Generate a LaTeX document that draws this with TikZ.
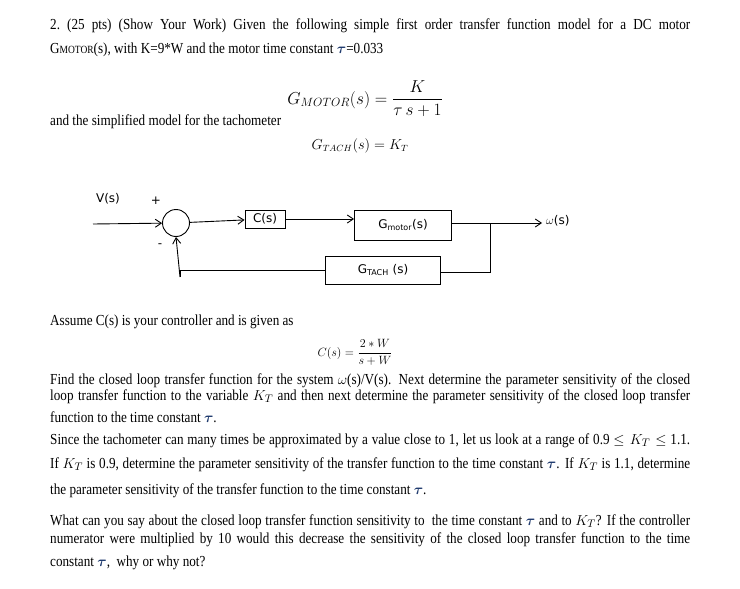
\documentclass[tikz,border=0pt]{standalone}
\usepackage{amsmath}
\usepackage{fontspec}
\setmainfont[FakeStretch=0.86]{Liberation Serif}
\newfontfamily\hand{DejaVu Sans}
\usetikzlibrary{arrows.meta}
\definecolor{taucol}{HTML}{1F3A6E}
\newcommand{\tu}{{\color{taucol}$\boldsymbol{\tau}$}}
\newcommand{\kt}{$K_T$}
\begin{document}
\begin{tikzpicture}[x=1pt,y=-1pt,
  txt/.style={anchor=base west,inner sep=0pt,font=\fontsize{15.3}{17}\selectfont},
  eq/.style={anchor=base,inner sep=0pt},
  blk/.style={draw,line width=0.9pt,inner sep=2pt,font=\hand\fontsize{12}{14}\selectfont},
  arr/.style={line width=0.9pt,-{Straight Barb[length=6pt,width=8pt]}},
  hlab/.style={font=\hand\fontsize{12}{14}\selectfont,inner sep=0pt}]
\fill[white] (0,0) rectangle (740,589);
\useasboundingbox (0,0) rectangle (740,589);
\node[txt] (l1) at (50,29) {\makebox[640pt][s]{2.\ (25 pts) (Show Your Work) Given the following simple first order transfer function model for a DC motor}};
\node[txt] (l2) at (50,53) {G{\fontsize{11}{12}\selectfont MOTOR}(s), with K=9*W and the motor time constant \tu=0.033};
\node[eq] (e1) at (365,104) {\fontsize{18.5}{21}\selectfont $G_{MOTOR}(s)=\dfrac{K}{\tau\,s+1}$};
\node[txt] (l3) at (50,125) {and the simplified model for the tachometer};
\node[eq] (e2) at (360,149) {\fontsize{13.5}{15}\selectfont $G_{TACH}(s)=K_T$};
% diagram
\node[draw,circle,line width=0.9pt,minimum size=27pt,inner sep=0pt] (sum) at (176,223) {};
\coordinate (in) at (93,224);
\node[hlab] (vs) at (108,199) {V(s)};
\node[hlab] (pl) at (156,201) {+};
\node[hlab] (mi) at (160,246) {-};
\node[blk,minimum width=40pt,minimum height=18pt] (c) at (265,219) {C(s)};
\node[blk,minimum width=97pt,minimum height=30pt] (gm) at (403,225) {G$_{\text{motor}}$(s)};
\node[blk,minimum width=115pt,minimum height=28pt] (gt) at (383,270) {G$_{\text{TACH}}$ (s)};
\coordinate (br) at (490,223);
\coordinate (out) at (542,223);
\node[hlab,anchor=west] (w) at (546,221) {$\omega$(s)};
\coordinate (br2) at (490,272);
\coordinate (fb) at (180,277);
\draw[arr] (in) -- (sum);
\draw[arr] (sum) -- (c);
\draw[arr] (c) -- (c -| gm.west);
\draw[arr] (gm.east |- br) -- (out);
\draw[line width=0.9pt] (br) -- (br2) -- (gt.east |- br2);
\draw[line width=0.9pt] (gt.west) -- (fb |- gt.west) -- (fb);
\draw[arr] (fb) -- (sum.south);
% rest text
\node[txt] (l4) at (50,325) {Assume C(s) is your controller and is given as};
\node[eq] (e3) at (355,356) {\fontsize{13}{15}\selectfont $C(s)=\dfrac{2*W}{s+W}$};
\node[txt] (l5) at (50,384) {\makebox[640pt][s]{Find the closed loop transfer function for the system $\omega$(s)/V(s). Next determine the parameter sensitivity of the closed}};
\node[txt] (l6) at (50,400) {\makebox[640pt][s]{loop transfer function to the variable \kt{} and then next determine the parameter sensitivity of the closed loop transfer}};
\node[txt] (l7) at (50,422) {function to the time constant \tu.};
\node[txt] (l8) at (50,444) {\makebox[640pt][s]{Since the tachometer can many times be approximated by a value close to 1, let us look at a range of 0.9 $\le K_T \le$ 1.1.}};
\node[txt] (l9) at (50,468) {\makebox[640pt][s]{If \kt{} is 0.9, determine the parameter sensitivity of the transfer function to the time constant \tu. If \kt{} is 1.1, determine}};
\node[txt] (l10) at (50,494) {the parameter sensitivity of the transfer function to the time constant \tu.};
\node[txt] (l11) at (50,525) {\makebox[640pt][s]{What can you say about the closed loop transfer function sensitivity to \ the time constant \tu{} and to \kt? If the controller}};
\node[txt] (l12) at (50,543) {\makebox[640pt][s]{numerator were multiplied by 10 would this decrease the sensitivity of the closed loop transfer function to the time}};
\node[txt] (l13) at (50,566) {constant \tu, \ why or why not?};
\end{tikzpicture}
\end{document}
